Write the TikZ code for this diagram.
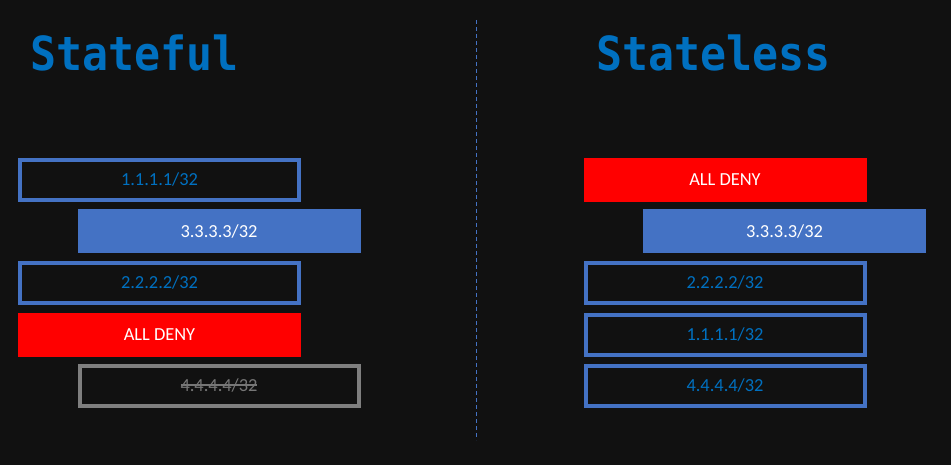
\documentclass[tikz,border=0pt]{standalone}
\usepackage{fontspec}
\setmainfont{Carlito}
\newfontfamily\titlefont[FakeStretch=0.92]{DejaVu Sans Mono}
\usetikzlibrary{positioning}
\definecolor{bg}{HTML}{111111}
\definecolor{ruleblue}{HTML}{4472C4}
\definecolor{textblue}{HTML}{0070C0}
\definecolor{denyred}{HTML}{FF0000}
\definecolor{greyline}{HTML}{7F7F7F}
\definecolor{greytext}{HTML}{767676}
\newcommand{\struck}[1]{\setbox0\hbox{#1}\rlap{\rule[0.33em]{\wd0}{1.6pt}}\box0}

\begin{document}
\begin{tikzpicture}[x=1pt, y=-1pt, on grid,
                    rule/.style={draw=ruleblue, line width=4pt, minimum width=279pt, minimum height=40pt,
                                 inner sep=0pt, text=textblue, font=\fontsize{18.4}{22}\selectfont},
                    allow/.style={rule, draw=none, fill=ruleblue, text=white, minimum width=283pt, minimum height=44pt},
                    deny/.style={allow, fill=denyred},
                    dropped/.style={rule, draw=greyline, text=greytext},
                    heading/.style={anchor=base west, inner sep=0pt, text=textblue,
                                    font=\titlefont\bfseries\fontsize{47}{56}\selectfont},
                    divider/.style={draw=ruleblue, line width=1pt, dash pattern=on 4pt off 3pt}]

    \fill[bg] (0,0) rectangle (951,465);

    \node[heading] (tfull) at (30,71) {Stateful};
    \node[heading] (tless) at (596,71) {Stateless};

    % stateful rules
    \node[rule] (l1) at (159.5,180) {1.1.1.1/32};
    \node[allow] (l2) [below right=51.5pt and 59.5pt of l1] {3.3.3.3/32};
    \node[rule] (l3) [below left=51.5pt and 59.5pt of l2] {2.2.2.2/32};
    \node[deny] (l4) [below=51.5pt of l3] {ALL DENY};
    \node[dropped] (l5) [below right=51.5pt and 59.5pt of l4] {\struck{4.4.4.4/32}};

    % stateless rules
    \node[deny] (r1) [right=565.5pt of l1] {ALL DENY};
    \node[allow] (r2) [below right=51.5pt and 59.5pt of r1] {3.3.3.3/32};
    \node[rule] (r3) [below left=51.5pt and 59.5pt of r2] {2.2.2.2/32};
    \node[rule] (r4) [below=51.5pt of r3] {1.1.1.1/32};
    \node[rule] (r5) [below=51.5pt of r4] {4.4.4.4/32};

    \coordinate (dtop) at (476.5,20);
    \coordinate (dbot) at (476.5,440);
    \draw[divider] (dtop) -- (dbot);
\end{tikzpicture}
\end{document}
